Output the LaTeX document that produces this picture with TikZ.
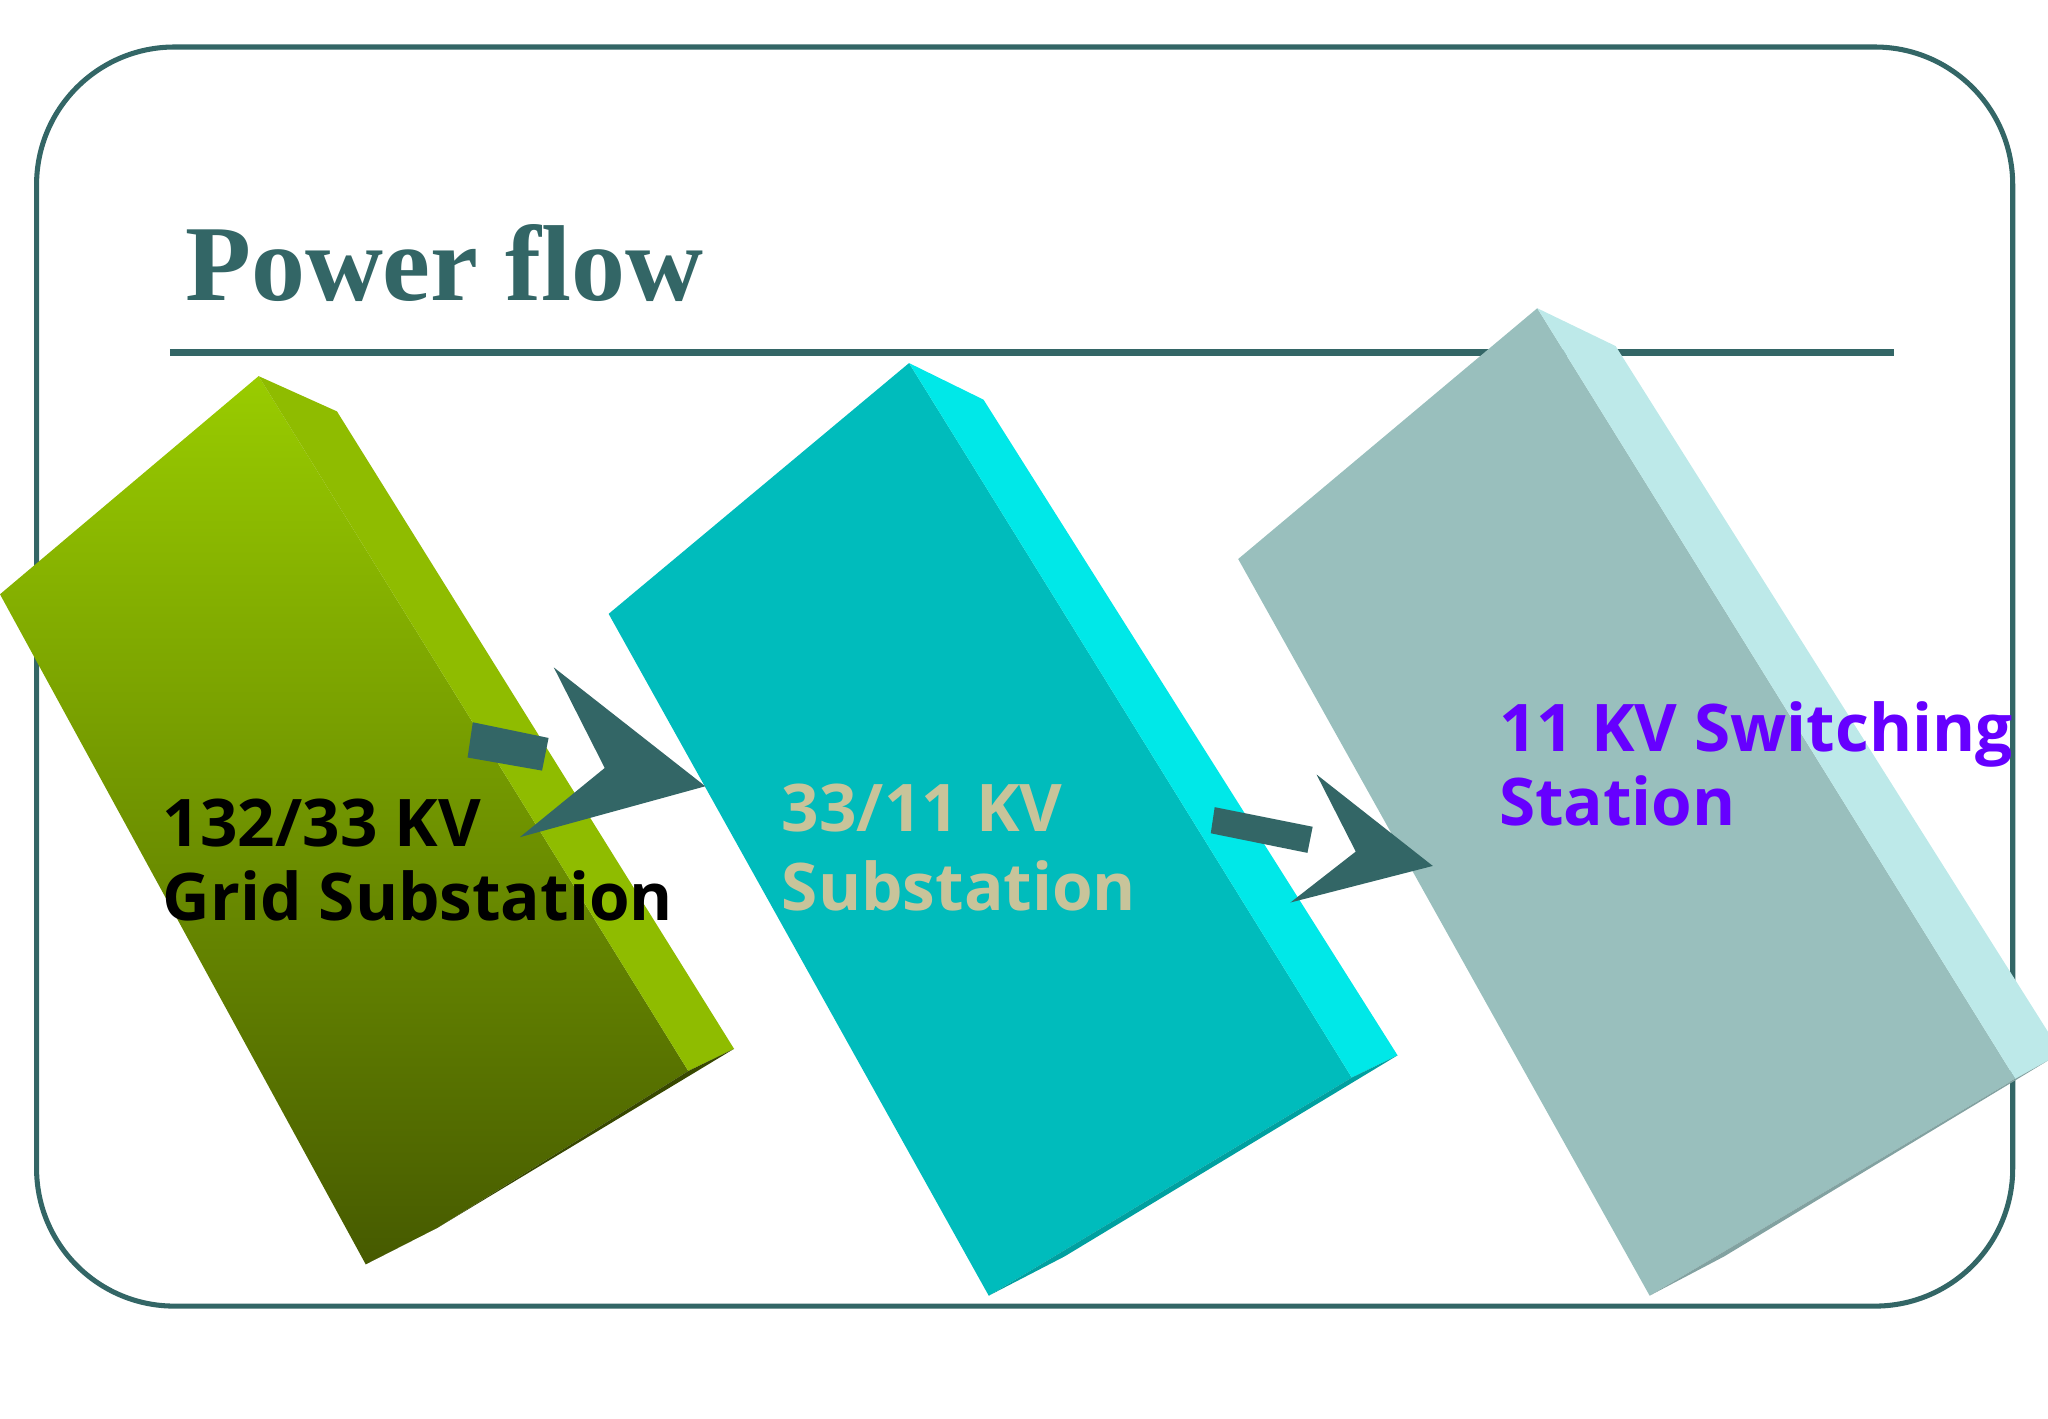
\documentclass[tikz,border=0pt]{standalone}
\usepackage{fontspec}
\setmainfont{Open Sans}
\newfontfamily\titlefont{Liberation Serif}
\begin{document}
\begin{tikzpicture}[x=0.01cm,y=-0.01cm,
  arr/.style={fill=teal0,draw=none},
  lbl/.style={anchor=base west,font=\bfseries\fontsize{14.3}{17}\selectfont,inner sep=0pt}]
\definecolor{teal0}{HTML}{336666}
\definecolor{gtop}{HTML}{99CC00}
\definecolor{gbot}{HTML}{465A00}
\definecolor{gside}{HTML}{8FBC00}
\definecolor{cfront}{HTML}{00BCBC}
\definecolor{cside}{HTML}{00E8E8}
\definecolor{sfront}{HTML}{99BFBD}
\definecolor{sside}{HTML}{BDE9E9}
\definecolor{tan0}{HTML}{C8C49A}
\definecolor{purp}{HTML}{6600FF}
\useasboundingbox (0,0) rectangle (1568,1086);
\draw[teal0,line width=1.1pt,rounded corners=30] (28,36) rectangle (1541,1000);
\node[anchor=base west,inner sep=0pt,text=teal0,font=\titlefont\bfseries\fontsize{23.5}{28}\selectfont] (title) at (141,230) {Power flow};
\draw[teal0,line width=1.5pt] (130,270) -- (1450,270);
% green box
\shade[top color=gtop,bottom color=gbot] (0,455) -- (198,288) -- (527,820) -- (335,940) -- (280,968) -- cycle;
\fill[gside] (198,288) -- (258,315) -- (562,803) -- (527,820) -- cycle;
\fill[gbot!80!black] (280,968) -- (335,940) -- (562,803) -- (527,820) -- (335,940) -- cycle;
% cyan box
\fill[cfront] (466,470) -- (696,278) -- (1035,825) -- (757,992) -- cycle;
\fill[cside] (696,278) -- (753,306) -- (1070,808) -- (1035,825) -- cycle;
\fill[cfront!85!black] (757,992) -- (815,962) -- (1070,808) -- (1035,825) -- cycle;
% grey box
\fill[sfront] (948,428) -- (1177,236) -- (1543,826) -- (1263,992) -- cycle;
\fill[sside] (1177,236) -- (1237,265) -- (1568,790) -- (1568,812) -- (1543,826) -- cycle;
\fill[sfront!85!black] (1263,992) -- (1320,962) -- (1568,812) -- (1543,826) -- cycle;
% arrows
\fill[arr] (362,553) -- (420,565) -- (415,590) -- (358,580) -- cycle;
\fill[arr] (424,511) -- (540,602) -- (398,641) -- (463,588) -- cycle;
\fill[arr] (930,618) -- (1005,633) -- (1001,653) -- (927,638) -- cycle;
\fill[arr] (1008,593) -- (1097,663) -- (988,691) -- (1038,652) -- cycle;
% labels
\node[lbl,text=black] (a1) at (124,648) {132/33 KV};
\node[lbl,text=black] (a2) at (124,705) {Grid Substation};
\node[lbl,text=tan0] (b1) at (598,637) {33/11 KV};
\node[lbl,text=tan0] (b2) at (598,697) {Substation};
\node[lbl,text=purp] (c1) at (1147,575) {11 KV Switching};
\node[lbl,text=purp] (c2) at (1147,632) {Station};
\end{tikzpicture}
\end{document}
